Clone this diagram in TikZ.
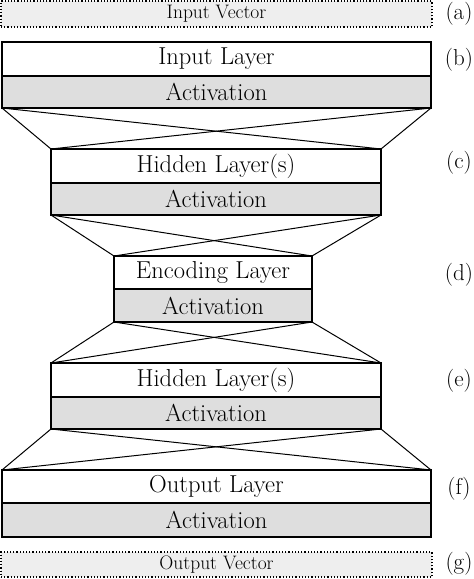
\documentclass[tikz,border=0pt]{standalone}
\usepackage{tikz}
\definecolor{actgray}{HTML}{DEDEDE}
\definecolor{vecgray}{HTML}{EEEEEE}
\begin{document}
\begin{tikzpicture}[x=1pt,y=-1pt,
  layerbox/.style={draw, line width=1.3pt, fill=white, inner sep=0pt, outer sep=0pt,
    minimum height=#1, font=\fontsize{24.5}{28}\selectfont},
  actbox/.style={draw, line width=1.3pt, fill=actgray, inner sep=0pt, outer sep=0pt,
    minimum height=#1, font=\fontsize{24.5}{28}\selectfont},
  vecbox/.style={draw, dotted, line width=1.2pt, fill=vecgray, inner sep=0pt, outer sep=0pt,
    minimum width=431pt, minimum height=#1, font=\fontsize{19.5}{22}\selectfont},
  tag/.style={inner sep=0pt, font=\fontsize{23}{26}\selectfont},
  link/.style={line width=1pt}]
\useasboundingbox (0,0) rectangle (474,579);
% (a)
\node[vecbox=26pt] (iv) at (216.5,14) {Input Vector};
% (b)
\node[layerbox=34pt, minimum width=429pt] (inl) at (216.5,59) {Input Layer};
\node[actbox=32pt, minimum width=429pt] (ina) at (216.5,92) {Activation};
% (c)
\node[layerbox=34pt, minimum width=330pt] (h1l) at (216,166) {Hidden Layer(s)};
\node[actbox=32pt, minimum width=330pt] (h1a) at (216,199) {Activation};
% (d)
\node[layerbox=33pt, minimum width=198pt] (enl) at (213,272.5) {Encoding Layer};
\node[actbox=33pt, minimum width=198pt] (ena) at (213,305.5) {Activation};
% (e)
\node[layerbox=34pt, minimum width=330pt] (h2l) at (216,380) {Hidden Layer(s)};
\node[actbox=32pt, minimum width=330pt] (h2a) at (216,413) {Activation};
% (f)
\node[layerbox=33pt, minimum width=429pt] (oul) at (216.5,486.5) {Output Layer};
\node[actbox=34pt, minimum width=429pt] (oua) at (216.5,520) {Activation};
% (g)
\node[vecbox=25pt] (ov) at (216.5,564.5) {Output Vector};
% connectors
\foreach \a/\b in {ina/h1l, h1a/enl, ena/h2l, h2a/oul}{
  \draw[link] (\a.south west) -- (\b.north west);
  \draw[link] (\a.south east) -- (\b.north east);
  \draw[link] (\a.south west) -- (\b.north east);
  \draw[link] (\a.south east) -- (\b.north west);
}
% tags
\node[tag] (ta) at (459,14) {(a)};
\node[tag] (tb) at (459,60) {(b)};
\node[tag] (tc) at (459,163) {(c)};
\node[tag] (td) at (459,275) {(d)};
\node[tag] (te) at (459,381) {(e)};
\node[tag] (tf) at (459,489) {(f)};
\node[tag] (tg) at (459,564) {(g)};
\end{tikzpicture}
\end{document}
